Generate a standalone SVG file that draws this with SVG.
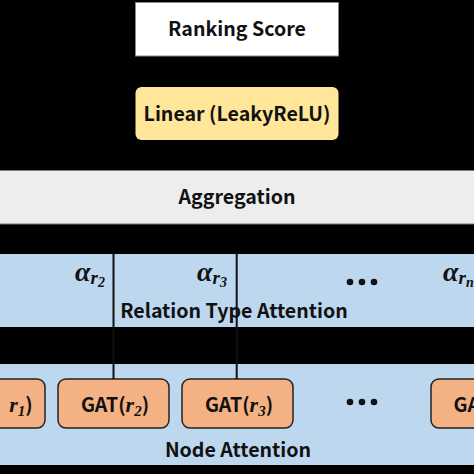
<svg xmlns="http://www.w3.org/2000/svg" width="474" height="474" viewBox="0 0 474 474">
<style>
.t{font-family:"Noto Sans CJK KR","Noto Sans",sans-serif;font-weight:bold;font-size:19.6px;fill:#111;text-anchor:middle}
.m{font-family:"Liberation Serif","DejaVu Serif",serif;font-weight:bold;font-style:italic;fill:#111}
.gat{fill:#F4B183;stroke:#222;stroke-width:1.5}
.dots{fill:#111}
</style>
<rect x="0" y="0" width="474" height="474" fill="#000"/>
<g id="ranking-score">
<rect x="135.5" y="2.5" width="203" height="53.5" fill="#fff" stroke="#888" stroke-width="1"/>
<text class="t" x="237" y="36">Ranking Score</text>
</g>
<g id="linear">
<rect x="135.5" y="87" width="203" height="53" rx="6" fill="#FFE699"/>
<text class="t" x="237" y="121">Linear (LeakyReLU)</text>
</g>
<g id="aggregation">
<rect x="-2" y="170.5" width="478" height="53.5" fill="#EDEDED" stroke="#777" stroke-width="1"/>
<text class="t" x="237" y="204">Aggregation</text>
</g>
<g id="relation-type-attention">
<rect x="-2" y="254" width="478" height="73" fill="#BDD7EE"/>
<text class="t" x="234" y="318">Relation Type Attention</text>
<text class="m" x="75" y="281" font-size="28">α<tspan font-size="19" dy="3">r</tspan><tspan font-size="14" dy="3">2</tspan></text>
<text class="m" x="197" y="281" font-size="28">α<tspan font-size="19" dy="3">r</tspan><tspan font-size="14" dy="3">3</tspan></text>
<g class="dots"><circle cx="350" cy="282" r="3.3"/><circle cx="362" cy="282" r="3.3"/><circle cx="374" cy="282" r="3.3"/></g>
<text class="m" x="443" y="281" font-size="28">α<tspan font-size="19" dy="3">r</tspan><tspan font-size="14" dy="3">n</tspan></text>
</g>
<g id="node-attention">
<rect x="-2" y="364" width="478" height="101" fill="#BDD7EE"/>
<text class="t" x="238" y="457">Node Attention</text>
</g>
<g id="gat-r1">
<rect class="gat" x="-10" y="379" width="55" height="49" rx="8"/>
<text class="t" x="21" y="412"><tspan class="m" font-size="22">r</tspan><tspan class="m" font-size="15" dy="4">1</tspan><tspan dy="-4">)</tspan></text>
</g>
<g id="gat-r2">
<rect class="gat" x="58" y="379" width="111" height="49" rx="8"/>
<text class="t" x="115" y="412">GAT(<tspan class="m" font-size="22">r</tspan><tspan class="m" font-size="15" dy="4">2</tspan><tspan dy="-4">)</tspan></text>
</g>
<g id="gat-r3">
<rect class="gat" x="182" y="379" width="111" height="49" rx="8"/>
<text class="t" x="239" y="412">GAT(<tspan class="m" font-size="22">r</tspan><tspan class="m" font-size="15" dy="4">3</tspan><tspan dy="-4">)</tspan></text>
</g>
<g class="dots"><circle cx="350" cy="402" r="3.3"/><circle cx="362" cy="402" r="3.3"/><circle cx="374" cy="402" r="3.3"/></g>
<g id="gat-rn">
<rect class="gat" x="431" y="379" width="111" height="49" rx="8"/>
<text class="t" x="488" y="412">GAT(<tspan class="m" font-size="22">r</tspan><tspan class="m" font-size="15" dy="4">n</tspan><tspan dy="-4">)</tspan></text>
</g>
<g id="connectors" stroke="#111" stroke-width="2">
<line x1="113.5" y1="254" x2="113.5" y2="379"/>
<line x1="236.7" y1="254" x2="236.7" y2="379"/>
</g>
</svg>
